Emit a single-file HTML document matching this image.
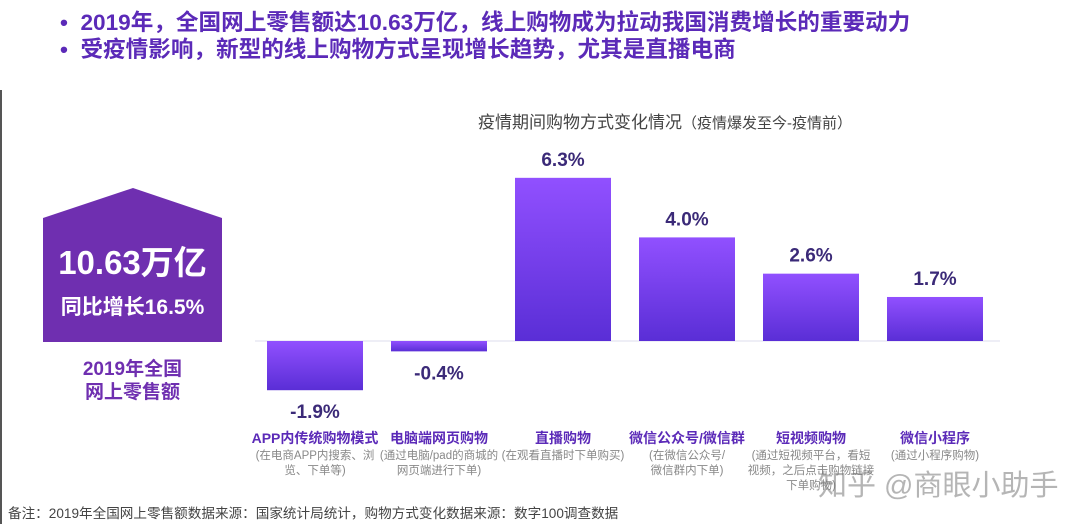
<!DOCTYPE html>
<html><head><meta charset="utf-8">
<style>
body{margin:0;width:1080px;height:524px;background:#fff;overflow:hidden;font-family:"Liberation Sans","Noto Sans CJK SC",sans-serif;position:relative}
.t{position:absolute;white-space:nowrap}
</style></head>
<body>
<div class="t" style="left:0;top:90px;width:2px;height:434px;background:#555"></div>
<div class="t" style="left:60px;top:4px;font-size:22.6px;font-weight:bold;color:#5b2ab8">•&nbsp;&nbsp;2019年，全国网上零售额达10.63万亿，线上购物成为拉动我国消费增长的重要动力</div>
<div class="t" style="left:60px;top:31px;font-size:22.6px;font-weight:bold;color:#5b2ab8">•&nbsp;&nbsp;受疫情影响，新型的线上购物方式呈现增长趋势，尤其是直播电商</div>
<div class="t" style="left:478px;top:108px;font-size:17px;color:#444">疫情期间购物方式变化情况<span style="font-size:15px">（疫情爆发至今-疫情前）</span></div>

<svg class="t" style="left:0;top:0" width="1080" height="524">
<polygon points="43,218 133,188 222,218 222,342 43,342" fill="#6f2fb0"/>
</svg>
<div class="t" style="left:43px;top:236px;width:179px;text-align:center;font-size:33px;font-weight:bold;color:#fff">10.63万亿</div>
<div class="t" style="left:43px;top:291px;width:179px;text-align:center;font-size:21px;font-weight:bold;color:#fff">同比增长16.5%</div>
<div class="t" style="left:43px;top:358px;width:179px;text-align:center;font-size:19px;line-height:23px;font-weight:bold;color:#6f2fb0">2019年全国<br>网上零售额</div>

<svg id="chart" class="t" style="left:0;top:0" width="1080" height="524">
<defs><linearGradient id="g" x1="0" y1="0" x2="0" y2="1"><stop offset="0" stop-color="#9150ff"/><stop offset="1" stop-color="#5a2ed6"/></linearGradient></defs>
<line x1="255" y1="341" x2="1000" y2="341" stroke="#dde" stroke-width="1"/>
</svg>
<div class="t" style="left:8px;top:502px;font-size:13.6px;color:#444">备注：2019年全国网上零售额数据来源：国家统计局统计，购物方式变化数据来源：数字100调查数据</div>
<div class="t" style="left:818px;top:462px;font-size:29px;color:rgba(120,120,120,0.55)">知乎 @商眼小助手</div>
<script>
const categories=["APP内传统购物模式","电脑端网页购物","直播购物","微信公众号/微信群","短视频购物","微信小程序"];
const values=[-1.9,-0.4,6.3,4.0,2.6,1.7];
const valueLabels=["-1.9%","-0.4%","6.3%","4.0%","2.6%","1.7%"];
const subLabels=[["(在电商APP内搜索、浏","览、下单等)"],["(通过电脑/pad的商城的","网页端进行下单)"],["(在观看直播时下单购买)"],["(在微信公众号/","微信群内下单)"],["(通过短视频平台，看短","视频，之后点击购物链接","下单购物)"],["(通过小程序购物)"]];
const svg=document.getElementById('chart');const NS='http://www.w3.org/2000/svg';
const y0=341,k=25.9,x0=267,step=124,bw=96;
const y=v=>y0-v*k;const x=i=>x0+i*step;
values.forEach((v,i)=>{
 const r=document.createElementNS(NS,'rect');
 r.setAttribute('x',x(i));r.setAttribute('width',bw);
 r.setAttribute('y',Math.min(y(v),y0));r.setAttribute('height',Math.abs(y(v)-y0));
 r.setAttribute('fill','url(#g)');
 
 
 svg.appendChild(r);
 const t=document.createElementNS(NS,'text');
 t.setAttribute('x',x(i)+bw/2);t.setAttribute('y',v>=0?y(v)-12:y(v)+28);
 t.setAttribute('text-anchor','middle');t.setAttribute('font-size','19');t.setAttribute('font-weight','bold');t.setAttribute('fill','#3b2a78');
 t.textContent=valueLabels[i];
 
 
 svg.appendChild(t);
 const c=document.createElementNS(NS,'text');
 c.setAttribute('x',x(i)+bw/2);c.setAttribute('y',443);
 c.setAttribute('text-anchor','middle');c.setAttribute('font-size','14');c.setAttribute('font-weight','bold');c.setAttribute('fill','#5b2ab8');
 c.textContent=categories[i];
 
 
 svg.appendChild(c);
 subLabels[i].forEach((s,j)=>{
  const e=document.createElementNS(NS,'text');
  e.setAttribute('x',x(i)+bw/2);e.setAttribute('y',459+j*15);
  e.setAttribute('text-anchor','middle');e.setAttribute('font-size','11.5');e.setAttribute('fill','#888');
  e.textContent=s;
  
  
  svg.appendChild(e);
 });
});
</script>
</body></html>
